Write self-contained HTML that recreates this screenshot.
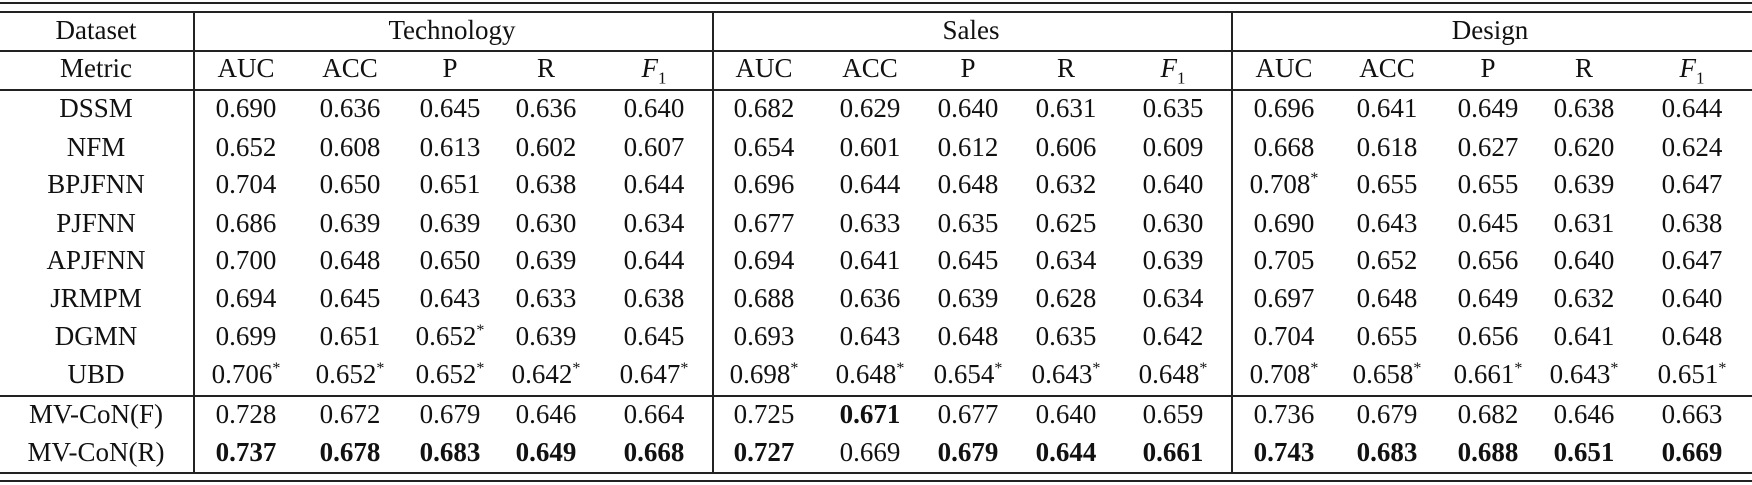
<!DOCTYPE html>
<html><head><meta charset="utf-8"><style>
body{margin:0;width:1752px;height:485px;background:#fff;position:relative;overflow:hidden;font-family:"Liberation Serif",serif;font-size:27px;color:#111}
.h{position:absolute;left:0;width:1752px;background:#222}
.v{position:absolute;width:1.5px;background:#222;top:12px;height:461px}
.r{position:absolute;left:0;width:1752px;height:36px;line-height:36px}
.r span{position:absolute;width:130px;margin-left:-65px;text-align:center;white-space:nowrap}
.r span.d{width:190px;margin-left:-95px}
b{font-weight:bold}
sup{font-size:16px;vertical-align:10px;line-height:0}
i sub{font-size:17px;font-style:normal}
</style></head><body>
<div class="h" style="top:2px;height:1.5px"></div>
<div class="h" style="top:11px;height:2px"></div>
<div class="h" style="top:50px;height:1.5px"></div>
<div class="h" style="top:89px;height:1.5px"></div>
<div class="h" style="top:395px;height:1.5px"></div>
<div class="h" style="top:472px;height:1.5px"></div>
<div class="h" style="top:480px;height:2px"></div>
<div class="v" style="left:193px"></div>
<div class="v" style="left:712px"></div>
<div class="v" style="left:1231px"></div>

<div class="r" style="top:12px"><span class="d" style="left:96px">Dataset</span><span style="left:452px;width:200px;margin-left:-100px">Technology</span><span style="left:971px">Sales</span><span style="left:1490px">Design</span></div>
<div class="r" style="top:50px"><span class="d" style="left:96px">Metric</span>
<span style="left:246px">AUC</span><span style="left:350px">ACC</span><span style="left:450px">P</span><span style="left:546px">R</span><span style="left:654px"><i>F<sub>1</sub></i></span>
<span style="left:764px">AUC</span><span style="left:870px">ACC</span><span style="left:968px">P</span><span style="left:1066px">R</span><span style="left:1173px"><i>F<sub>1</sub></i></span>
<span style="left:1284px">AUC</span><span style="left:1387px">ACC</span><span style="left:1488px">P</span><span style="left:1584px">R</span><span style="left:1692px"><i>F<sub>1</sub></i></span></div>

<div class="r" style="top:90px"><span class="d" style="left:96px">DSSM</span><span style="left:246px">0.690</span><span style="left:350px">0.636</span><span style="left:450px">0.645</span><span style="left:546px">0.636</span><span style="left:654px">0.640</span><span style="left:764px">0.682</span><span style="left:870px">0.629</span><span style="left:968px">0.640</span><span style="left:1066px">0.631</span><span style="left:1173px">0.635</span><span style="left:1284px">0.696</span><span style="left:1387px">0.641</span><span style="left:1488px">0.649</span><span style="left:1584px">0.638</span><span style="left:1692px">0.644</span></div>
<div class="r" style="top:129px"><span class="d" style="left:96px">NFM</span><span style="left:246px">0.652</span><span style="left:350px">0.608</span><span style="left:450px">0.613</span><span style="left:546px">0.602</span><span style="left:654px">0.607</span><span style="left:764px">0.654</span><span style="left:870px">0.601</span><span style="left:968px">0.612</span><span style="left:1066px">0.606</span><span style="left:1173px">0.609</span><span style="left:1284px">0.668</span><span style="left:1387px">0.618</span><span style="left:1488px">0.627</span><span style="left:1584px">0.620</span><span style="left:1692px">0.624</span></div>
<div class="r" style="top:166px"><span class="d" style="left:96px">BPJFNN</span><span style="left:246px">0.704</span><span style="left:350px">0.650</span><span style="left:450px">0.651</span><span style="left:546px">0.638</span><span style="left:654px">0.644</span><span style="left:764px">0.696</span><span style="left:870px">0.644</span><span style="left:968px">0.648</span><span style="left:1066px">0.632</span><span style="left:1173px">0.640</span><span style="left:1284px">0.708<sup>*</sup></span><span style="left:1387px">0.655</span><span style="left:1488px">0.655</span><span style="left:1584px">0.639</span><span style="left:1692px">0.647</span></div>
<div class="r" style="top:205px"><span class="d" style="left:96px">PJFNN</span><span style="left:246px">0.686</span><span style="left:350px">0.639</span><span style="left:450px">0.639</span><span style="left:546px">0.630</span><span style="left:654px">0.634</span><span style="left:764px">0.677</span><span style="left:870px">0.633</span><span style="left:968px">0.635</span><span style="left:1066px">0.625</span><span style="left:1173px">0.630</span><span style="left:1284px">0.690</span><span style="left:1387px">0.643</span><span style="left:1488px">0.645</span><span style="left:1584px">0.631</span><span style="left:1692px">0.638</span></div>
<div class="r" style="top:242px"><span class="d" style="left:96px">APJFNN</span><span style="left:246px">0.700</span><span style="left:350px">0.648</span><span style="left:450px">0.650</span><span style="left:546px">0.639</span><span style="left:654px">0.644</span><span style="left:764px">0.694</span><span style="left:870px">0.641</span><span style="left:968px">0.645</span><span style="left:1066px">0.634</span><span style="left:1173px">0.639</span><span style="left:1284px">0.705</span><span style="left:1387px">0.652</span><span style="left:1488px">0.656</span><span style="left:1584px">0.640</span><span style="left:1692px">0.647</span></div>
<div class="r" style="top:280px"><span class="d" style="left:96px">JRMPM</span><span style="left:246px">0.694</span><span style="left:350px">0.645</span><span style="left:450px">0.643</span><span style="left:546px">0.633</span><span style="left:654px">0.638</span><span style="left:764px">0.688</span><span style="left:870px">0.636</span><span style="left:968px">0.639</span><span style="left:1066px">0.628</span><span style="left:1173px">0.634</span><span style="left:1284px">0.697</span><span style="left:1387px">0.648</span><span style="left:1488px">0.649</span><span style="left:1584px">0.632</span><span style="left:1692px">0.640</span></div>
<div class="r" style="top:318px"><span class="d" style="left:96px">DGMN</span><span style="left:246px">0.699</span><span style="left:350px">0.651</span><span style="left:450px">0.652<sup>*</sup></span><span style="left:546px">0.639</span><span style="left:654px">0.645</span><span style="left:764px">0.693</span><span style="left:870px">0.643</span><span style="left:968px">0.648</span><span style="left:1066px">0.635</span><span style="left:1173px">0.642</span><span style="left:1284px">0.704</span><span style="left:1387px">0.655</span><span style="left:1488px">0.656</span><span style="left:1584px">0.641</span><span style="left:1692px">0.648</span></div>
<div class="r" style="top:356px"><span class="d" style="left:96px">UBD</span><span style="left:246px">0.706<sup>*</sup></span><span style="left:350px">0.652<sup>*</sup></span><span style="left:450px">0.652<sup>*</sup></span><span style="left:546px">0.642<sup>*</sup></span><span style="left:654px">0.647<sup>*</sup></span><span style="left:764px">0.698<sup>*</sup></span><span style="left:870px">0.648<sup>*</sup></span><span style="left:968px">0.654<sup>*</sup></span><span style="left:1066px">0.643<sup>*</sup></span><span style="left:1173px">0.648<sup>*</sup></span><span style="left:1284px">0.708<sup>*</sup></span><span style="left:1387px">0.658<sup>*</sup></span><span style="left:1488px">0.661<sup>*</sup></span><span style="left:1584px">0.643<sup>*</sup></span><span style="left:1692px">0.651<sup>*</sup></span></div>
<div class="r" style="top:396px"><span class="d" style="left:96px">MV-CoN(F)</span><span style="left:246px">0.728</span><span style="left:350px">0.672</span><span style="left:450px">0.679</span><span style="left:546px">0.646</span><span style="left:654px">0.664</span><span style="left:764px">0.725</span><span style="left:870px"><b>0.671</b></span><span style="left:968px">0.677</span><span style="left:1066px">0.640</span><span style="left:1173px">0.659</span><span style="left:1284px">0.736</span><span style="left:1387px">0.679</span><span style="left:1488px">0.682</span><span style="left:1584px">0.646</span><span style="left:1692px">0.663</span></div>
<div class="r" style="top:434px"><span class="d" style="left:96px">MV-CoN(R)</span><span style="left:246px"><b>0.737</b></span><span style="left:350px"><b>0.678</b></span><span style="left:450px"><b>0.683</b></span><span style="left:546px"><b>0.649</b></span><span style="left:654px"><b>0.668</b></span><span style="left:764px"><b>0.727</b></span><span style="left:870px">0.669</span><span style="left:968px"><b>0.679</b></span><span style="left:1066px"><b>0.644</b></span><span style="left:1173px"><b>0.661</b></span><span style="left:1284px"><b>0.743</b></span><span style="left:1387px"><b>0.683</b></span><span style="left:1488px"><b>0.688</b></span><span style="left:1584px"><b>0.651</b></span><span style="left:1692px"><b>0.669</b></span></div>
</body></html>
